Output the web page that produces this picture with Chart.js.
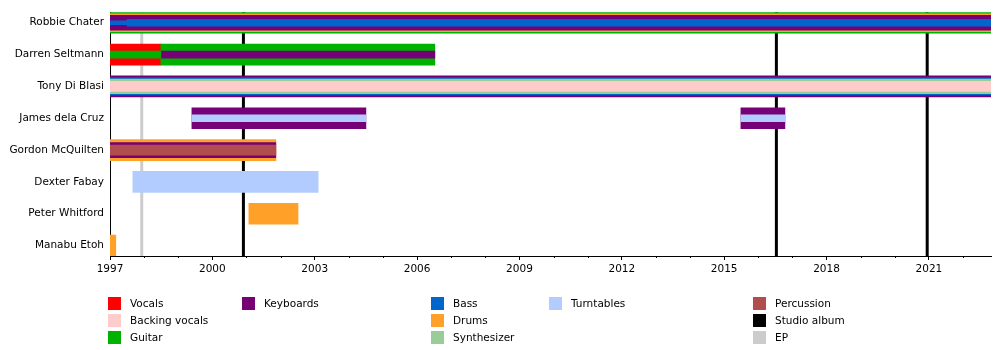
<!DOCTYPE html>
<html>
<head>
<meta charset="utf-8">
<title>Band members timeline</title>
<script src="https://cdn.jsdelivr.net/npm/chart.js@4.4.0/dist/chart.umd.min.js"></script>
<style>
    body { margin: 0; background: #fff; font-family: "DejaVu Sans", sans-serif; }
    #wrap { position: relative; width: 1000px; height: 350px; }
    #legend { position: absolute; left: 0; top: 0; }
    .item { position: absolute; height: 13px; font-size: 10.5px; line-height: 13px; color: #000; white-space: nowrap; }
    .item .sw { position: absolute; left: 0; top: 0; width: 13px; height: 13px; }
    .item .tx { position: absolute; left: 22px; top: 0; }
</style>
</head>
<body>
<div id="wrap">
    <canvas id="timeline" width="1000" height="350"></canvas>
    <div id="legend"></div>
</div>
<script>
// Members, top to bottom
const members = ["Robbie Chater", "Darren Seltmann", "Tony Di Blasi", "James dela Cruz",
                 "Gordon McQuilten", "Dexter Fabay", "Peter Whitford", "Manabu Etoh"];

const instruments = ["Vocals", "Backing vocals", "Guitar", "Keyboards", "Bass", "Drums",
                     "Synthesizer", "Turntables", "Percussion"];
const instrumentColors = ["#ff0000", "#ffcccc", "#00b200", "#760076", "#0066cc", "#ffa028",
                          "#99cc99", "#b3ccff", "#b24d4d"];

// Axis range and labelled years
const axisStart = 1997;
const axisEnd = 2022.82;
const yearLabels = [1997, 2000, 2003, 2006, 2009, 2012, 2015, 2018, 2021];
const minorYears = [1997, 1998, 1999, 2000, 2001, 2002, 2003, 2004, 2005, 2006, 2007, 2008, 2009,
                    2010, 2011, 2012, 2013, 2014, 2015, 2016, 2017, 2018, 2019, 2020, 2021, 2022];

// Release markers
const studioAlbums = [2000.91, 2016.53, 2020.95];
const eps = [1997.93];

// Bars: [member, from, to]
const vocals = [["Darren Seltmann", 1997, 1998.49]];
const backingVocals = [["Tony Di Blasi", 1997, axisEnd]];
const guitar = [["Robbie Chater", 1997, axisEnd], ["Darren Seltmann", 1998.49, 2006.52]];
const guitarInner = [["Darren Seltmann", 1997, 1998.49]];
const keyboards = [["Tony Di Blasi", 1997, axisEnd], ["James dela Cruz", 1999.4, 2004.5],
                   ["James dela Cruz", 2015.49, 2016.78]];
const keyboardsMid = [["Robbie Chater", 1997, axisEnd], ["Gordon McQuilten", 1997, 2001.86]];
const keyboardsInner = [["Darren Seltmann", 1998.49, 2006.52]];
const bass = [["Tony Di Blasi", 1997, axisEnd]];
const bassInner = [["Robbie Chater", 1997.5, axisEnd]];
const bassThin = [["Robbie Chater", 1997, 1997.5]];
const drums = [["Gordon McQuilten", 1997, 2001.86], ["Peter Whitford", 2001.07, 2002.51],
               ["Manabu Etoh", 1997, 1997.17]];
const drumsMid = [["Robbie Chater", 1997, axisEnd]];
const synthesizer = [["Tony Di Blasi", 1997, axisEnd]];
const turntables = [["Dexter Fabay", 1997.67, 2003.1]];
const turntablesInner = [["James dela Cruz", 1999.4, 2004.5], ["James dela Cruz", 2015.49, 2016.78]];
const percussion = [["Gordon McQuilten", 1997, 2001.86]];

// Legend columns (left edge in px) and their entries
const legendColumns = [
    { left: 108, labels: ["Vocals", "Backing vocals", "Guitar"] },
    { left: 242, labels: ["Keyboards"] },
    { left: 431, labels: ["Bass", "Drums", "Synthesizer"] },
    { left: 549, labels: ["Turntables"] },
    { left: 753, labels: ["Percussion", "Studio album", "EP"] }
];
const legendExtraColors = { "Studio album": "#000000", "EP": "#cccccc" };

// Function to turn one list of bars into a dataset of a given thickness
function makeLayer(bars, instrument, width) {
    return {
        label: instrument,
        data: bars.map(b => ({ x: [b[1], b[2]], y: members.indexOf(b[0]) })),
        backgroundColor: instrumentColors[instruments.indexOf(instrument)],
        grouped: false,
        maxBarThickness: width,
        barPercentage: 1,
        categoryPercentage: 1,
        borderWidth: 0,
        borderSkipped: false,
        order: width // thinner bars drawn on top
    };
}

const datasets = [
    makeLayer(guitar, "Guitar", 21),
    makeLayer(vocals, "Vocals", 21),
    makeLayer(keyboards, "Keyboards", 21),
    makeLayer(drums, "Drums", 21),
    makeLayer(turntables, "Turntables", 21),
    makeLayer(drumsMid, "Drums", 18),
    makeLayer(bass, "Bass", 17),
    makeLayer(keyboardsMid, "Keyboards", 15),
    makeLayer(synthesizer, "Synthesizer", 14.5),
    makeLayer(backingVocals, "Backing vocals", 10),
    makeLayer(percussion, "Percussion", 10),
    makeLayer(bassInner, "Bass", 7),
    makeLayer(guitarInner, "Guitar", 7),
    makeLayer(keyboardsInner, "Keyboards", 7),
    makeLayer(turntablesInner, "Turntables", 7),
    makeLayer(bassThin, "Bass", 4)
];

// Vertical release lines, drawn under the bars
const releaseLines = {
    id: "releaseLines",
    beforeDatasetsDraw(chart) {
        const { ctx, chartArea, scales } = chart;
        ctx.save();
        ctx.lineWidth = 3;
        function drawAt(list, color) {
            ctx.strokeStyle = color;
            list.forEach(year => {
                const x = scales.x.getPixelForValue(year);
                ctx.beginPath();
                ctx.moveTo(x, chartArea.top);
                ctx.lineTo(x, chartArea.bottom);
                ctx.stroke();
            });
        }
        drawAt(eps, legendExtraColors["EP"]);
        drawAt(studioAlbums, legendExtraColors["Studio album"]);
        ctx.restore();
    }
};

// Short tick marks for the unlabelled years
const minorTicks = {
    id: "minorTicks",
    afterDraw(chart) {
        const { ctx, chartArea, scales } = chart;
        ctx.save();
        ctx.strokeStyle = "#000";
        ctx.lineWidth = 1;
        minorYears.forEach(year => {
            if (yearLabels.includes(year)) return;
            const x = Math.round(scales.x.getPixelForValue(year)) + 0.5;
            ctx.beginPath();
            ctx.moveTo(x, chartArea.bottom);
            ctx.lineTo(x, chartArea.bottom + 2);
            ctx.stroke();
        });
        ctx.restore();
    }
};

// Function to build the html legend
function buildLegend() {
    const legend = document.getElementById("legend");
    const rowTops = [297, 314, 331];
    legendColumns.forEach(col => {
        col.labels.forEach((label, i) => {
            const idx = instruments.indexOf(label);
            const color = idx >= 0 ? instrumentColors[idx] : legendExtraColors[label];
            const item = document.createElement("div");
            item.className = "item";
            item.style.left = col.left + "px";
            item.style.top = rowTops[i] + "px";
            item.innerHTML = `<span class="sw" style="background:${color}"></span><span class="tx">${label}</span>`;
            legend.appendChild(item);
        });
    });
}

// Function to setup the timeline chart
function setupTimeline() {
    const ctx = document.getElementById("timeline").getContext("2d");
    const font = { family: "DejaVu Sans", size: 10.5 };

    new Chart(ctx, {
        type: "bar",
        data: { datasets: datasets },
        options: {
            responsive: false,
            animation: false,
            indexAxis: "y",
            layout: { padding: { top: 10, right: 9, left: 0, bottom: 0 } },
            plugins: {
                legend: { display: false },
                tooltip: { enabled: false }
            },
            scales: {
                x: {
                    type: "linear",
                    position: "bottom",
                    min: axisStart,
                    max: axisEnd,
                    afterBuildTicks: s => { s.ticks = yearLabels.map(v => ({ value: v })); },
                    afterFit: s => { s.height = 94; },
                    grid: { drawOnChartArea: false, drawTicks: true, tickLength: 4, tickColor: "#000" },
                    border: { color: "#000", width: 1 },
                    ticks: {
                        autoSkip: false,
                        maxRotation: 0,
                        padding: 3,
                        color: "#000",
                        font: font,
                        callback: v => String(v)
                    }
                },
                y: {
                    type: "linear",
                    reverse: true,
                    offset: false,
                    min: -0.327,
                    max: 7.327,
                    afterBuildTicks: s => { s.ticks = members.map((m, i) => ({ value: i })); },
                    afterFit: s => { s.width = 110; },
                    grid: { display: false, drawTicks: false, offset: false },
                    border: { color: "#000", width: 1 },
                    ticks: {
                        padding: 6,
                        color: "#000",
                        font: font,
                        callback: v => members[Math.round(v)]
                    }
                }
            }
        },
        plugins: [releaseLines, minorTicks]
    });
}

document.addEventListener("DOMContentLoaded", () => {
    buildLegend();
    setupTimeline();
});
</script>
</body>
</html>
